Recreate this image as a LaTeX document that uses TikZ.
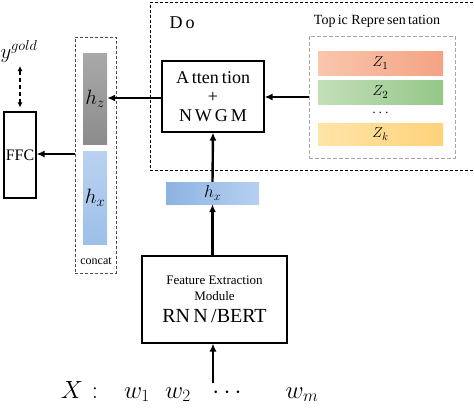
\documentclass[tikz,border=0pt]{standalone}
\usepackage{fontspec}
\setmainfont{Liberation Serif}
\usetikzlibrary{arrows.meta,calc}
\definecolor{zoneL}{HTML}{F9C6AE}
\definecolor{zoneR}{HTML}{F4A383}
\definecolor{ztwoL}{HTML}{C3DFB8}
\definecolor{ztwoR}{HTML}{94C788}
\definecolor{zkL}{HTML}{FFE4A8}
\definecolor{zkR}{HTML}{FFD27A}
\definecolor{hmL}{HTML}{8DB3E2}
\definecolor{hmR}{HTML}{B6D0F0}
\definecolor{hcT}{HTML}{BAD2F0}
\definecolor{hcB}{HTML}{9CC0E8}
\definecolor{gzT}{HTML}{A9A9A9}
\definecolor{gzB}{HTML}{8C8C8C}
\begin{document}
\begin{tikzpicture}[x=1pt,y=-1pt,
  box/.style={draw=black,line width=1.1pt,fill=white,inner sep=0pt},
  bar/.style={inner sep=0pt},
  arr/.style={line width=2.4pt,-{Latex[length=8pt,width=7pt]}},
  dbox/.style={draw=black,line width=1.2pt,dash pattern=on 3pt off 2pt,inner sep=0pt},
  gbox/.style={draw=gray!70,line width=0.8pt,dash pattern=on 4pt off 2pt,inner sep=0pt},
  fs/.style={font=\fontsize{#1}{#1}\selectfont}]
\useasboundingbox (0,0) rectangle (474,410);
% Do box
\node[dbox,minimum width=340pt,minimum height=168pt,anchor=north west] (do) at (149.5,2) {};
\node[fs=18,anchor=base west] (dolab) at (166,28) {D\,o};
% Topic representation
\node[fs=14] (toplab) at (377,21) {Top\,ic Repre\,sen\,tation};
\node[gbox,minimum width=146pt,minimum height=122pt] (topic) at (382,97) {};
\node[bar,minimum width=125pt,minimum height=24pt,left color=zoneL,right color=zoneR] (z1) at (380.5,63) {\fontsize{15}{15}\selectfont$Z_1$};
\node[bar,minimum width=125pt,minimum height=24pt,left color=ztwoL,right color=ztwoR] (z2) at (380.5,92) {\fontsize{15}{15}\selectfont$Z_2$};
\node[fs=14] (zdots) at (380.5,113) {$\cdots$};
\node[bar,minimum width=125pt,minimum height=22pt,left color=zkL,right color=zkR] (zk) at (380.5,134) {\fontsize{15}{15}\selectfont$Z_k$};
% Attention
\node[box,minimum width=102pt,minimum height=71pt,align=center,fs=18] (attn) at (213,96.5) {A\,tten\,tion\\[1pt]+\\[1pt]N\,W\,G\,M};
% middle h_x
\node[bar,minimum width=93pt,minimum height=22pt,left color=hmL,right color=hmR] (hxm) at (212.5,193) {\fontsize{18}{18}\selectfont$h_x$};
% Feature extraction
\node[box,minimum width=145pt,minimum height=87pt] (feat) at (214.5,299.5) {};
\node[fs=13] (fl1) at (214.5,280) {Feature Extraction};
\node[fs=13] (fl2) at (214.5,296) {Module};
\node[fs=20] (fl3) at (214.5,316) {RN\,N\,/BERT};
% concat
\node[dbox,line width=0.9pt,draw=black!70,minimum width=41pt,minimum height=236pt] (concat) at (95.5,155) {};
\node[bar,minimum width=24pt,minimum height=91pt,top color=gzT,bottom color=gzB] (hz) at (95,98.5) {\fontsize{20}{20}\selectfont$h_z$};
\node[bar,minimum width=24pt,minimum height=93pt,top color=hcT,bottom color=hcB] (hxc) at (95,197.5) {\fontsize{20}{20}\selectfont$h_x$};
\node[fs=12] (conlab) at (96,261) {concat};
% FFC
\node[box,minimum width=32pt,minimum height=86pt,fs=16] (ffc) at (20,155) {FFC};
\node[anchor=base west,fs=21] (ygold) at (-3,58) {$y^{gold}$};
\coordinate (ytop) at (20,66);
% input
\coordinate (xin) at (213,383);
\node[anchor=base,fs=24] (X) at (72,398) {$X$};
\node[anchor=base,fs=24] (col) at (95,398) {$:$};
\node[anchor=base,fs=24] (w1) at (137,398) {$w_1$};
\node[anchor=base,fs=24] (w2) at (178,398) {$w_2$};
\node[anchor=base,fs=24] (wd) at (227,398) {$\cdots$};
\node[anchor=base,fs=24] (wm) at (302,398) {$w_m$};
% arrows
\draw[arr] (attn.west |- 0,98) -- (hz.east |- 0,98);
\draw[arr] (topic.west |- 0,97) -- (attn.east |- 0,97);
\draw[arr] (hxm.north) -- (attn.south);
\draw[arr] (feat.north -| hxm.south) -- (hxm.south);
\draw[arr] (xin) -- (xin |- feat.south);
\draw[arr] (concat.west |- 0,154) -- (ffc.east |- 0,154);
\draw[line width=1.6pt,dash pattern=on 4pt off 3pt,{Latex[length=5pt,width=5pt]}-{Latex[length=5pt,width=5pt]}] (ytop) -- ($(ffc.north)+(0,-4)$);
\end{tikzpicture}
\end{document}
